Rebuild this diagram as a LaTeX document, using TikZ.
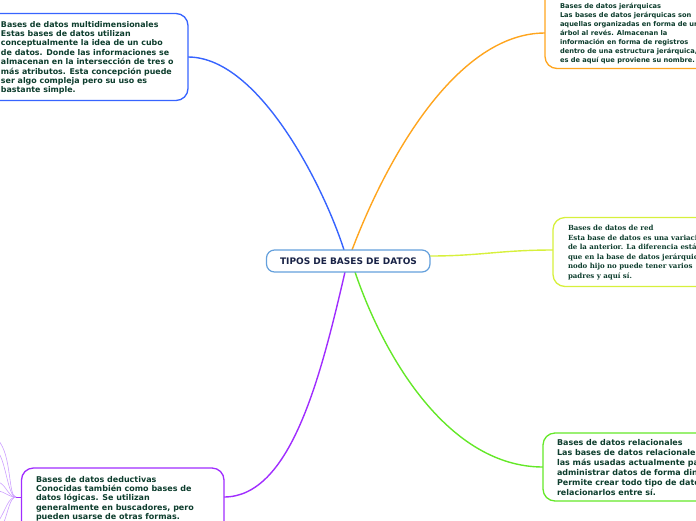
\documentclass[tikz,border=0pt]{standalone}
\usepackage{fontspec}
\setmainfont{DejaVu Sans}
\newfontfamily\serifb{DejaVu Serif}
\definecolor{txt}{RGB}{13,61,45}
\definecolor{navy}{RGB}{25,35,70}
\definecolor{cblue}{RGB}{55,100,255}
\definecolor{corange}{RGB}{255,165,30}
\definecolor{cyellow}{RGB}{215,240,60}
\definecolor{cgreen}{RGB}{100,232,40}
\definecolor{cpurple}{RGB}{160,45,255}
\definecolor{cpurplel}{RGB}{205,160,255}
\definecolor{ccenter}{RGB}{100,160,220}
\begin{document}
\begin{tikzpicture}[x=1pt,y=-1pt,
  box/.style={draw=#1, rounded corners=12pt, line width=1.3pt, fill=white, anchor=north west, inner sep=0pt, outer sep=0pt},
  link/.style={line width=1.4pt, draw=#1},
  thin link/.style={line width=0.6pt, draw=cpurplel},
  txtnode/.style={anchor=base west, inner sep=0pt, outer sep=0pt, text=txt}]
\useasboundingbox (0,0) rectangle (696,520);
\clip (0,0) rectangle (696,520);
% attachment coordinates
\coordinate (cB) at (344,250);
\coordinate (cO) at (352,250);
\coordinate (cY) at (430,256);
\coordinate (cG) at (355,272);
\coordinate (cP) at (345,272);
\coordinate (inB) at (188,57);
\coordinate (inO) at (545,33);
\coordinate (inY) at (553,250);
\coordinate (inG) at (543,467);
\coordinate (inP) at (224,497);
\coordinate (pl) at (21.5,497);
\coordinate (pf) at (16,497);
\coordinate (e1) at (-2,440);
\coordinate (e2) at (-2,452);
\coordinate (e3) at (-2,482);
\coordinate (e4) at (-2,491);
\coordinate (e5) at (-2,522);
\coordinate (e6) at (4,522);
% connectors
\draw[link=cblue] (cB) .. controls (325,190) and (260,57) .. (inB);
\draw[link=corange] (cO) .. controls (390,150) and (460,33) .. (inO);
\draw[link=cyellow] (cY) .. controls (480,256) and (500,250) .. (inY);
\draw[link=cgreen] (cG) .. controls (385,360) and (450,467) .. (inG);
\draw[link=cpurple] (cP) .. controls (320,380) and (290,497) .. (inP);
\draw[line width=1pt, cpurple] (pl) -- (pf);
\draw[thin link] (pf) .. controls (8,497) and (12,455) .. (e1);
\draw[thin link] (pf) .. controls (8,497) and (6,462) .. (e2);
\draw[thin link] (pf) .. controls (8,497) and (6,484) .. (e3);
\draw[thin link] (pf) .. controls (8,497) and (6,492) .. (e4);
\draw[thin link] (pf) .. controls (8,497) and (6,510) .. (e5);
\draw[thin link] (pf) .. controls (10,497) and (8,512) .. (e6);
% boxes
\node[box=cblue, minimum width=203pt, minimum height=87pt] (bTL) at (-15,13.5) {};
\node[box=corange, minimum width=175pt, minimum height=83.5pt] (bTR) at (545,-15) {};
\node[box=cyellow, minimum width=170pt, minimum height=69pt] (bR) at (553,217.5) {};
\node[box=cgreen, minimum width=180pt, minimum height=68pt] (bBR) at (543,433) {};
\node[box=cpurple, minimum width=202.5pt, minimum height=80pt] (bBL) at (21.5,468) {};
\node[box=ccenter, rounded corners=8pt, line width=1.2pt, minimum width=163.5pt, minimum height=22pt] (ctr) at (266.5,250) {};
% texts
\node[anchor=center, inner sep=0pt, text=navy, font=\fontsize{9}{10}\selectfont\bfseries] (ctrT) at (348.5,261.5) {TIPOS DE BASES DE DATOS};
\node[txtnode] (tTL) at (1,27) {\parbox[t]{250pt}{\fontsize{7.9}{9.4}\selectfont\bfseries
Bases de datos multidimensionales\\
Estas bases de datos utilizan\\
conceptualmente la idea de un cubo\\
de datos. Donde las informaciones se\\
almacenan en la intersección de tres o\\
más atributos. Esta concepción puede\\
ser algo compleja pero su uso es\\
bastante simple.}};
\node[txtnode] (tTR) at (560,8.3) {\parbox[t]{250pt}{\fontsize{6.65}{9.06}\selectfont\bfseries
Bases de datos jerárquicas\\
Las bases de datos jerárquicas son\\
aquellas organizadas en forma de un\\
árbol al revés. Almacenan la\\
información en forma de registros\\
dentro de una estructura jerárquica,\\
es de aquí que proviene su nombre.}};
\node[txtnode] (tR) at (568,230.7) {\parbox[t]{250pt}{\serifb\bfseries\fontsize{7}{9.5}\selectfont
Bases de datos de red\\
Esta base de datos es una variación\\
de la anterior. La diferencia está en\\
que en la base de datos jerárquica un\\
nodo hijo no puede tener varios\\
padres y aquí sí.}};
\node[txtnode] (tBR) at (557,445.7) {\parbox[t]{250pt}{\fontsize{8}{9.9}\selectfont\bfseries
Bases de datos relacionales\\
Las bases de datos relacionales son\\
las más usadas actualmente para\\
administrar datos de forma dinámica.\\
Permite crear todo tipo de datos y\\
relacionarlos entre sí.}};
\node[txtnode] (tBL) at (36,482) {\parbox[t]{250pt}{\fontsize{8}{9.4}\selectfont\bfseries
Bases de datos deductivas\\
Conocidas también como bases de\\
datos lógicas. Se utilizan\\
generalmente en buscadores, pero\\
pueden usarse de otras formas.}};
\end{tikzpicture}
\end{document}
